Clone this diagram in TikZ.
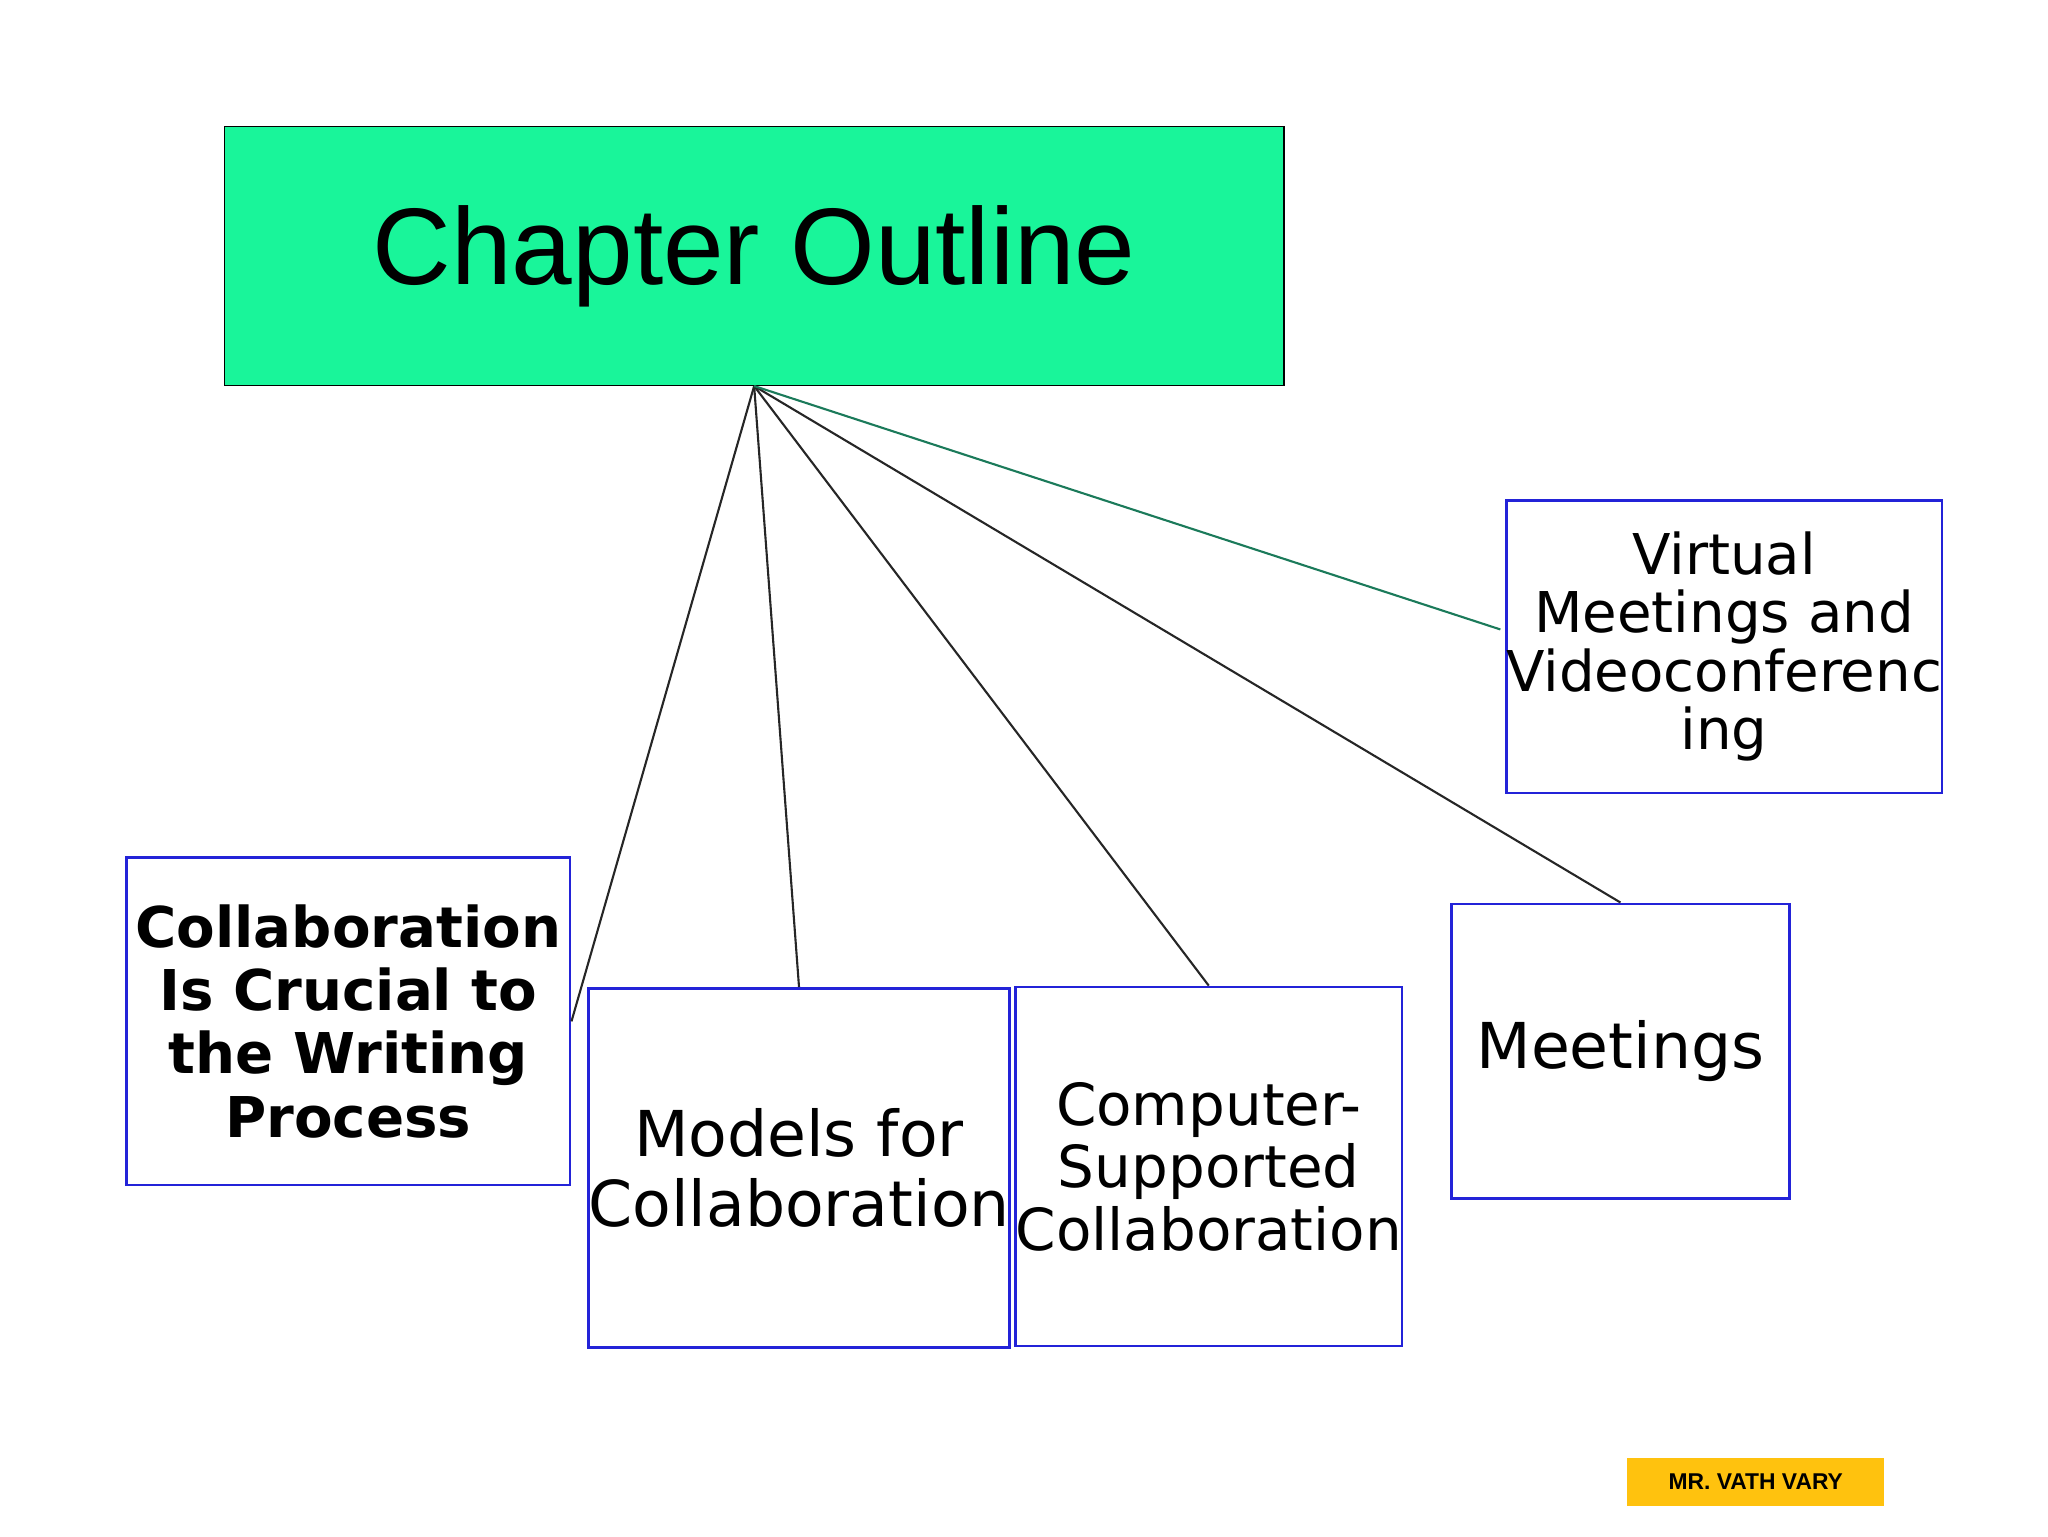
\documentclass[tikz,border=0pt]{standalone}
\usepackage{fontspec}
\setmainfont{DejaVu Sans}
\newfontfamily\arialfont{Liberation Sans}
\usepackage{tikz}
\definecolor{headgreen}{HTML}{19F59A}
\definecolor{boxblue}{HTML}{2323D8}
\definecolor{linegreen}{HTML}{1B7A5A}
\definecolor{tagorange}{HTML}{FFC20E}
\tikzset{
  topic/.style={draw=boxblue,thick,rectangle,align=center,inner sep=0pt},
  link/.style={draw=black!85,line width=0.6pt}
}
\begin{document}
\begin{tikzpicture}[x=0.013196cm,y=-0.013196cm]
\useasboundingbox (0,0) rectangle (1552,1164);
\node [draw,fill=headgreen,minimum width=803*0.013196cm,minimum height=196*0.013196cm,font=\arialfont\fontsize{31}{36}\selectfont] (head) at (571.5,194) {Chapter Outline};
\node [topic,minimum width=336*0.013196cm,minimum height=248*0.013196cm,font=\bfseries\fontsize{16}{18}\selectfont] (crucial) at (264,774) {Collaboration\\Is Crucial to\\the Writing\\Process};
\node [topic,minimum width=305*0.013196cm,minimum height=272*0.013196cm,font=\fontsize{18}{20}\selectfont] (models) at (605.5,885) {Models for\\Collaboration};
\node [topic,minimum width=284*0.013196cm,minimum height=272*0.013196cm,font=\fontsize{16.5}{17.8}\selectfont] (computer) at (916,884) {Computer-\\Supported\\Collaboration};
\node [topic,minimum width=256*0.013196cm,minimum height=223*0.013196cm,font=\fontsize{18}{20}\selectfont] (meet) at (1228,796.5) {Meetings};
\node [topic,minimum width=307*0.013196cm,minimum height=222*0.013196cm,font=\fontsize{16}{16.6}\selectfont] (virtual) at (1306.5,490) {Virtual\\Meetings and\\Videoconferenc\\ing};
\coordinate (vend) at (1137,477);
\draw [link] (head.south) -- (crucial.east);
\draw [link] (head.south) -- (models.north);
\draw [link] (head.south) -- (computer.north);
\draw [link] (head.south) -- (meet.north);
\draw [draw=linegreen,line width=0.6pt] (head.south) -- (vend);
\node [fill=tagorange,minimum width=195*0.013196cm,minimum height=36*0.013196cm,font=\arialfont\bfseries\fontsize{6.5}{8}\selectfont] (tag) at (1330.5,1123) {MR. VATH VARY};
\end{tikzpicture}
\end{document}
